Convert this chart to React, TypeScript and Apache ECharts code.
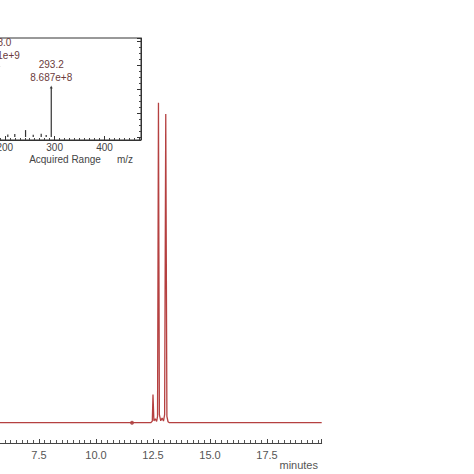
import React, { useEffect, useRef } from "react";
import * as echarts from "echarts";

// Chromatogram (retention time in minutes, relative intensity %)
const chromTimes = [5.79, 12.4, 12.47, 12.5, 12.54, 12.6, 12.66, 12.7, 12.74, 12.78, 12.84, 12.9, 12.96, 13.01, 13.06, 13.11, 13.16, 13.22, 19.9];
const chromValues = [0, 0, 0.5, 8.8, 0.6, 1.2, 0.4, 2.0, 100, 2.5, 0.6, 1.5, 0.5, 2.5, 96.5, 2.0, 0.3, 0, 0];
const markerTime = [11.58];
const xTickLabels = ["7.5", "10.0", "12.5", "15.0", "17.5"];

// Inset mass spectrum (m/z, counts)
const mzValues = [188.0, 206, 220, 241.6, 257, 273, 283, 293.2];
const mzIntensity = [1.251e9, 4.5e7, 5.0e7, 1.2e8, 4.0e7, 5.5e7, 3.5e7, 8.687e8];
const mzLabels = ["188.0\n1.251e+9", "", "", "", "", "", "", "293.2\n8.687e+8"];
const mzTickLabels = ["200", "300", "400"];

const FONT = "Liberation Sans, Arial, sans-serif";
const SHIFT = 48; // chart canvas extends 48px to the left of the page (cropped view)

export default function App() {
  const ref = useRef<HTMLDivElement>(null);
  useEffect(() => {
    if (!ref.current) return;
    const chart = echarts.init(ref.current, null, { renderer: "svg" });
    const chromData = chromTimes.map((t, i) => [t, chromValues[i]]);
    const specData = mzValues.map((m, i) => ({
      value: [m, mzIntensity[i]],
      label: {
        show: mzLabels[i] !== "",
        formatter: mzLabels[i],
      },
    }));
    const labeledPeaks = mzValues
      .map((m, i) => (mzLabels[i] !== "" ? [m, mzIntensity[i]] : null))
      .filter((d) => d !== null);
    chart.setOption({
      animation: false,
      backgroundColor: "#ffffff",
      grid: [
        { left: -18 + SHIFT, right: 152.3, top: 102.7, bottom: 31 },
        { left: -47.5 + SHIFT, right: 333, top: 38, bottom: 337 },
      ],
      xAxis: [
        {
          type: "value",
          gridIndex: 0,
          min: 5,
          max: 19.9,
          interval: 2.5,
          axisLine: { show: true, onZero: false, lineStyle: { color: "#444", width: 1 } },
          axisTick: { show: true, inside: true, length: 4, lineStyle: { color: "#444" } },
          minorTick: { show: true, splitNumber: 10, length: 3, lineStyle: { color: "#555" } },
          splitLine: { show: false },
          axisLabel: {
            showMinLabel: false,
            color: "#555",
            fontSize: 11,
            fontFamily: FONT,
            margin: 6,
            formatter: (v: number) => {
              const s = v.toFixed(1);
              return xTickLabels.indexOf(s) >= 0 ? s : "";
            },
          },
        },
        {
          type: "value",
          gridIndex: 1,
          min: 100,
          max: 473.3,
          interval: 100,
          offset: 3,
          axisLine: { show: true, onZero: false, lineStyle: { color: "#333", width: 1 } },
          axisTick: { show: true, inside: true, length: 4, lineStyle: { color: "#333" } },
          minorTick: { show: true, splitNumber: 10, length: 2, lineStyle: { color: "#444" } },
          splitLine: { show: false },
          axisLabel: {
            color: "#444",
            fontSize: 10,
            fontFamily: FONT,
            margin: 2,
            formatter: (v: number) => {
              const s = String(Math.round(v));
              return mzTickLabels.indexOf(s) >= 0 && Math.abs(v - Math.round(v)) < 1e-6 ? s : "";
            },
          },
        },
      ],
      yAxis: [
        { type: "value", gridIndex: 0, min: -6.34, max: 100, show: false },
        {
          type: "value",
          gridIndex: 1,
          position: "right",
          min: 0,
          max: 1.72e9,
          interval: 4.17e8,
          axisLine: { show: true, onZero: false, lineStyle: { color: "#333" } },
          axisTick: { show: true, inside: true, length: 4, lineStyle: { color: "#333" } },
          minorTick: { show: true, splitNumber: 4, length: 2, lineStyle: { color: "#444" } },
          splitLine: { show: false },
          axisLabel: { show: false },
        },
      ],
      graphic: [
        {
          type: "rect",
          z: -1,
          shape: { x: -5 + SHIFT, y: 38, width: 146, height: 102 },
          style: { fill: "#ffffff", stroke: "#333", lineWidth: 1 },
        },
        {
          type: "text",
          x: 65 + SHIFT,
          y: 159,
          style: { text: "Acquired Range", fill: "#444", fontSize: 10, fontFamily: FONT, align: "center", verticalAlign: "middle" },
        },
        {
          type: "text",
          x: 125 + SHIFT,
          y: 159,
          style: { text: "m/z", fill: "#444", fontSize: 10, fontFamily: FONT, align: "center", verticalAlign: "middle" },
        },
        {
          type: "text",
          x: 318 + SHIFT,
          y: 465,
          style: { text: "minutes", fill: "#555", fontSize: 11, fontFamily: FONT, align: "right", verticalAlign: "middle" },
        },
      ],
      series: [
        {
          type: "line",
          xAxisIndex: 0,
          yAxisIndex: 0,
          data: chromData,
          showSymbol: false,
          symbol: "none",
          lineStyle: { color: "#b54040", width: 1.3 },
        },
        {
          type: "scatter",
          xAxisIndex: 0,
          yAxisIndex: 0,
          data: markerTime.map((t) => [t, 0]),
          symbolSize: 4,
          itemStyle: { color: "#a03030" },
        },
        {
          type: "bar",
          xAxisIndex: 1,
          yAxisIndex: 1,
          data: specData,
          barWidth: 1.2,
          itemStyle: { color: "#333" },
          label: {
            position: "top",
            distance: 3,
            color: "#6b3b3b",
            fontSize: 10,
            fontFamily: FONT,
            lineHeight: 13,
            align: "center",
          },
        },
        {
          type: "scatter",
          xAxisIndex: 1,
          yAxisIndex: 1,
          data: labeledPeaks,
          symbol: "triangle",
          symbolSize: 3,
          itemStyle: { color: "#333" },
        },
      ],
    });
    return () => chart.dispose();
  }, []);
  return (
    <div
      ref={ref}
      style={{ position: "fixed", left: -SHIFT, top: 0, width: 474 + SHIFT, height: 474 }}
    />
  );
}
